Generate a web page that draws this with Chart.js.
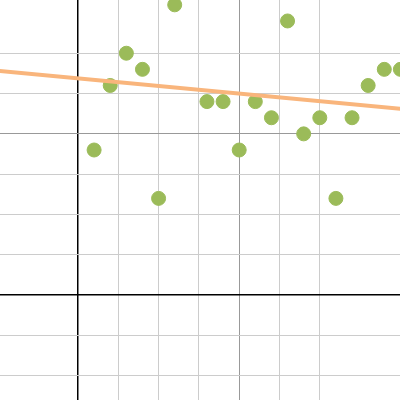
<!DOCTYPE html>
<html lang="en">
<head>
  <meta charset="UTF-8">
  <title>Scatter with trend line</title>
  <script src="https://cdn.jsdelivr.net/npm/chart.js"></script>
  <style>
    body{margin:0;background:#fff;overflow:hidden}
    #chart{position:absolute;left:-8px;top:-8px}
  </style>
</head>
<body>
  <canvas id="chart" width="416" height="416"></canvas>
  <script>
    // data
    const xValues = [0.4, 0.8, 1.2, 1.6, 2.0, 2.4, 3.2, 3.6, 4.0, 4.4, 4.8, 5.2, 5.6, 6.0, 6.4, 6.8, 7.2, 7.6, 8.0];
    const yValues = [3.6, 5.2, 6.0, 5.6, 2.4, 7.2, 4.8, 4.8, 3.6, 4.8, 4.4, 6.8, 4.0, 4.4, 2.4, 4.4, 5.2, 5.6, 5.6];
    const trendX = [-1.94, 8.0];
    const trendY = [5.56, 4.62];

    const points = xValues.map((x, i) => ({ x: x, y: yValues[i] }));
    const trend = trendX.map((x, i) => ({ x: x, y: trendY[i] }));

    function gridColor(ctx) {
      const v = ctx.tick.value;
      if (Math.abs(v - Math.round(v)) > 1e-6) return 'rgba(0,0,0,0)';
      if (Math.round(v) === 0) return '#000';
      if (Math.round(v) % 4 === 0) return '#999';
      return '#ccc';
    }
    function gridWidth(ctx) {
      return Math.abs(ctx.tick.value) < 1e-6 ? 1.5 : 1;
    }

    new Chart(document.getElementById('chart').getContext('2d'), {
      type: 'scatter',
      data: {
        datasets: [
          {
            data: trend,
            showLine: true,
            borderColor: '#f9b57c',
            borderWidth: 4,
            pointRadius: 0
          },
          {
            data: points,
            backgroundColor: '#9bbb59',
            borderColor: '#9bbb59',
            pointRadius: 7
          }
        ]
      },
      options: {
        responsive: false,
        animation: false,
        layout: { padding: 0 },
        plugins: { legend: { display: false }, tooltip: { enabled: false } },
        scales: {
          x: {
            min: -1.935, max: 7.99,
            ticks: { display: false, stepSize: 1 },
            grid: { color: gridColor, lineWidth: gridWidth, drawTicks: false },
            border: { display: false }
          },
          y: {
            min: -2.6, max: 7.32,
            ticks: { display: false, stepSize: 1 },
            grid: { color: gridColor, lineWidth: gridWidth, drawTicks: false },
            border: { display: false }
          }
        }
      }
    });
  </script>
</body>
</html>
